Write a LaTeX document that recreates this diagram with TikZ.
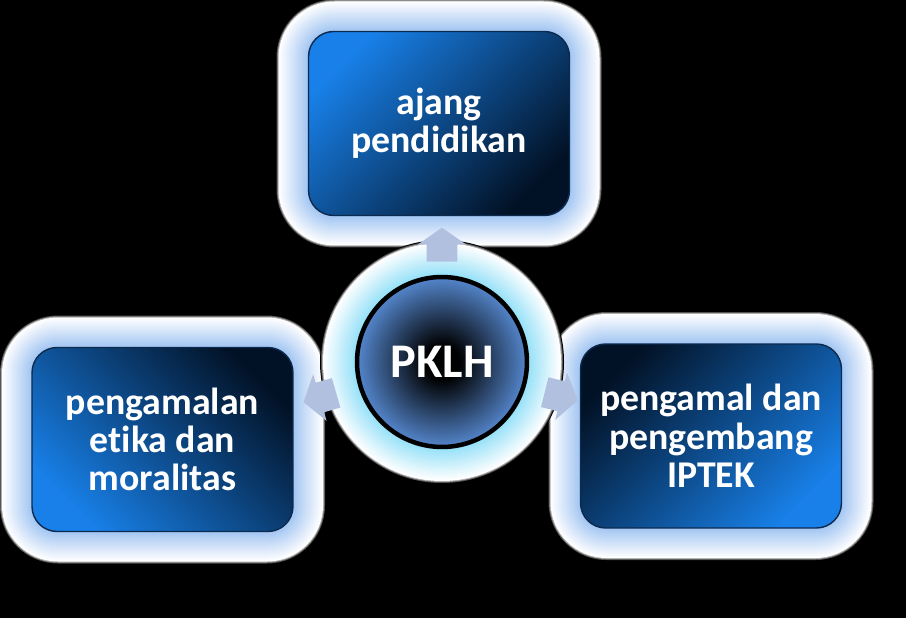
\documentclass[tikz,border=0pt]{standalone}
\usepackage{fontspec}
\setmainfont{Carlito}[Ligatures=NoCommon]
\usetikzlibrary{shapes.arrows,calc}
\definecolor{gblue}{RGB}{160,196,242}
\definecolor{gcyan}{RGB}{150,225,248}
\definecolor{bbright}{RGB}{24,128,232}
\definecolor{bmid}{RGB}{14,94,176}
\definecolor{bdark}{RGB}{2,18,38}
\definecolor{cblue}{RGB}{84,134,204}
\definecolor{arrowc}{RGB}{178,192,224}
\definecolor{bedge}{RGB}{12,42,78}
\pgfdeclareradialshading{pklhshade}{\pgfpoint{0bp}{0bp}}{color(0bp)=(black); color(5bp)=(black); color(25bp)=(cblue); color(50bp)=(cblue)}
\newcommand\glowbox[5]{%
  \foreach \e in {33,32,...,0}{%
    \pgfmathsetmacro\rr{(26+\e)*0.02}%
    \ifdim\e pt>30pt
      \pgfmathsetmacro\q{(33-\e)/3*100}%
      \colorlet{gcur}{white!\q!black}%
    \else
      \pgfmathsetmacro\p{\e/30*100}%
      \colorlet{gcur}{white!\p!#5}%
    \fi
    \fill[gcur, rounded corners=\rr cm] (#1-#3-\e,#2-#4-\e) rectangle (#1+#3+\e,#2+#4+\e);
  }}
\tikzset{
  box/.style={rounded corners=0.5cm, minimum width=5.22cm, minimum height=3.68cm,
    draw=bedge, line width=0.8pt, text=white, align=center,
    font=\bfseries\fontsize{21.5}{21.8}\selectfont,
    top color=bbright, middle color=bmid, bottom color=bdark},
  hub/.style={circle, minimum size=3.4cm, draw=black, line width=0.09cm,
    shading=pklhshade, text=white, font=\bfseries\fontsize{27.5}{30}\selectfont},
  blk/.style={single arrow, draw=none, fill=arrowc, minimum height=0.68cm,
    minimum width=0.96cm, single arrow head extend=0.18cm,
    single arrow tip angle=110, inner xsep=0pt, inner ysep=0.3cm}
}
\begin{document}
\begin{tikzpicture}[x=0.02cm,y=-0.02cm]
  \fill[black] (0,0) rectangle (906,618);
  \useasboundingbox (0,0) rectangle (906,618);
  \clip (0,0) rectangle (906,618);
  % glows
  \glowbox{439}{123.5}{130.5}{92}{gblue}
  \glowbox{162.5}{439.5}{130.5}{92}{gblue}
  \glowbox{711}{436}{130.5}{92}{gblue}
  \foreach \r in {122,121,...,87}{%
    \ifdim\r pt>119pt
      \pgfmathsetmacro\q{(122-\r)/3*100}%
      \colorlet{gcur}{white!\q!black}%
    \else
      \pgfmathsetmacro\p{(\r-87)/32*100}%
      \colorlet{gcur}{white!\p!gcyan}%
    \fi
    \fill[gcur] (442,362) circle[radius=\r];
  }
  % boxes
  \node[box, shading angle=45] (top) at (439,123.5) {ajang\\pendidikan};
  \node[box, shading angle=135] (lft) at (162.5,439.5) {pengamalan\\etika dan\\moralitas};
  \node[box, shading angle=-135] (rgt) at (711,436) {pengamal dan\\pengembang\\IPTEK};
  % hub
  \node[hub] (c) at (442,362) {PKLH};
  % arrows
  \node[blk, rotate=90] (aup) at ($(c)+(0,-112)$) {};
  \node[blk, rotate=196] (alft) at ($(c)+(-117,34)$) {};
  \node[blk, rotate=-14] (argt) at ($(c)+(114,33)$) {};
\end{tikzpicture}
\end{document}
